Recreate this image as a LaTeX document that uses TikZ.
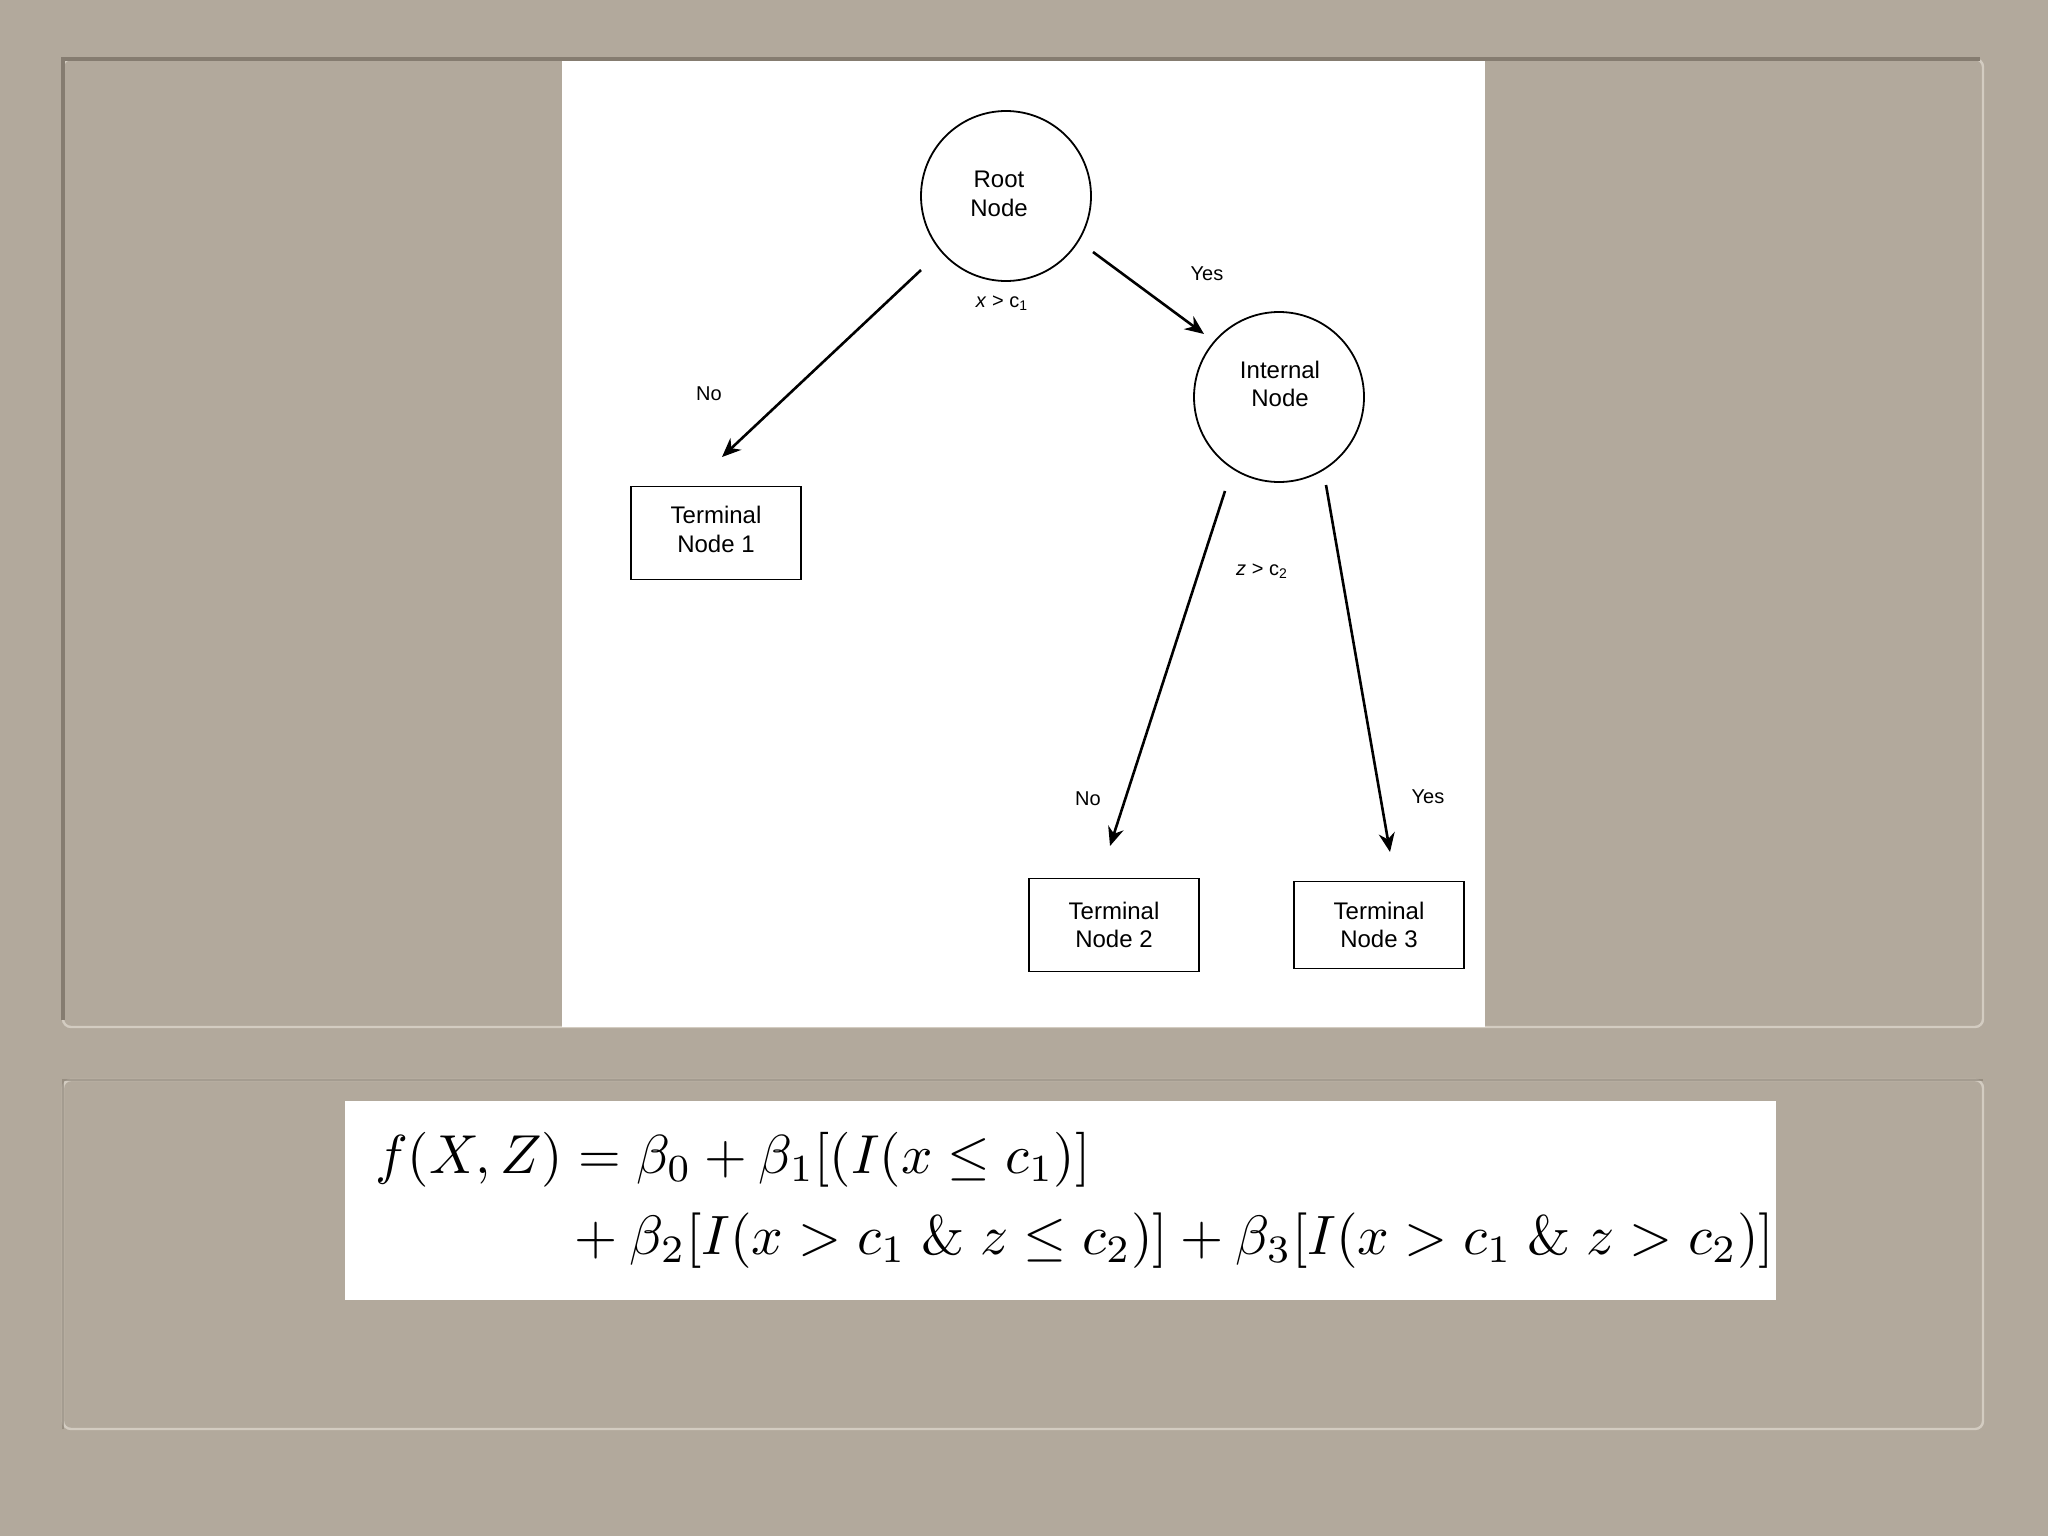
\documentclass[tikz,border=0pt]{standalone}
\usepackage{fontspec}
\usepackage{amsmath}
\newfontfamily\helv{Liberation Sans}
\usetikzlibrary{arrows.meta}
\definecolor{bg}{HTML}{B2A99C}
\definecolor{panelshadow}{HTML}{857C70}
\definecolor{panelhilite}{HTML}{D3CCC1}
\newsavebox\eqtwobox
\begin{document}
\begin{tikzpicture}[x=0.5pt,y=-0.5pt,
  tree/.style={font=\helv\fontsize{12}{14.4}\selectfont, align=center},
  circnode/.style={draw, circle, line width=0.9pt, minimum size=85pt, inner sep=0pt},
  termnode/.style={tree, draw, rectangle, line width=0.9pt, minimum width=85pt, minimum height=46.5pt, inner sep=0pt},
  lbl/.style={font=\helv\fontsize{10}{11}\selectfont, inner sep=0pt},
  arr/.style={-{Stealth[length=9.5pt,width=8pt]}, line width=1.3pt},
  eqn/.style={anchor=base west, inner sep=0pt}]
\sbox\eqtwobox{$\displaystyle {}+\beta_2[I(x>c_1\;\&\;z\leq c_2)]+\beta_3[I(x>c_1\;\&\;z>c_2)]$}
\pgfmathsetmacro\eqs{606/\the\wd\eqtwobox}
\pgfmathsetmacro\eqsa{0.99*\eqs}
\useasboundingbox (0,0) rectangle (2048,1536);
\fill[bg] (0,0) rectangle (2048,1536);
% upper panel
\draw[panelhilite, line width=1.2pt, rounded corners=4pt] (63,59) rectangle (1983,1027);
\draw[panelshadow, line width=2pt] (63,1020) -- (63,59) -- (1980,59);
% lower panel
\draw[panelhilite, line width=1.2pt, rounded corners=4pt] (63,1080) rectangle (1983,1429);
\draw[panelshadow, line width=1pt, opacity=0.6] (63,1429) -- (63,1080) -- (1983,1080);
% white sheets
\fill[white] (562,61) rectangle (1485,1027);
\fill[white] (345,1101) rectangle (1776,1300);
% tree
\node[circnode] (root) at (1006,196) {};
\node[tree] (roottext) at ([xshift=-3.5pt,yshift=1pt]root.center) {Root\\Node};
\node[circnode] (internal) at (1279,397) {};
\node[tree] (internaltext) at ([xshift=0.5pt,yshift=6.5pt]internal.center) {Internal\\Node};
\node[termnode, text depth=4pt] (t1) at (716,533) {Terminal\\Node 1};
\node[termnode] (t2) at (1114,925) {Terminal\\Node 2};
\node[termnode, minimum height=43.5pt] (t3) at (1379,925) {Terminal\\Node 3};
\coordinate (a1s) at (921,270); \coordinate (a1e) at (722,457);
\coordinate (a2s) at (1093,252); \coordinate (a2e) at (1204,334);
\coordinate (a3s) at (1225,491); \coordinate (a3e) at (1110,846);
\coordinate (a4s) at (1326,485); \coordinate (a4e) at (1390,852);
\draw[arr] (a1s) -- (a1e);
\draw[arr] (a2s) -- (a2e);
\draw[arr] (a3s) -- (a3e);
\draw[arr] (a4s) -- (a4e);
\node[lbl] (l1) at (709,394) {No};
\node[lbl] (l2) at (1207,274) {Yes};
\node[lbl] (l3) at (1002,303) {\textit{x} > c\textsubscript{1}};
\node[lbl] (l4) at (1262,571) {\textit{z} > c\textsubscript{2}};
\node[lbl] (l5) at (1088,799) {No};
\node[lbl] (l6) at (1428,797) {Yes};
% equation
\node[eqn, scale=\eqsa] (eq1) at (374,1173) {$\displaystyle f(X,Z)=\beta_0+\beta_1[(I(x\leq c_1)]$};
\node[eqn, scale=\eqs] (eq2) at (561,1254) {\usebox\eqtwobox};
\end{tikzpicture}
\end{document}
